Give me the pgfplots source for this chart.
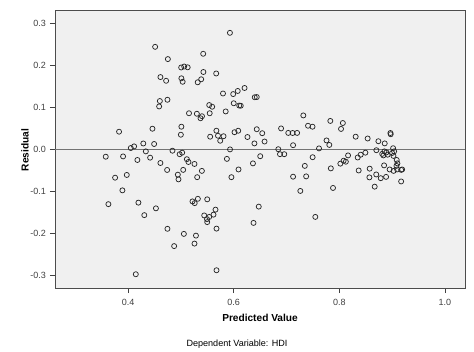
\documentclass[border=0pt]{standalone}
\usepackage{pgfplots}
\pgfplotsset{compat=1.18}
\usepackage{fontspec}
\setmainfont{Liberation Sans}
\begin{document}
\begin{tikzpicture}[x=1pt,y=1pt]
\useasboundingbox (0,0) rectangle (355.5,263.25);
\begin{axis}[
  at={(41.25pt,47.25pt)}, anchor=south west, scale only axis,
  width=307.5pt, height=208.5pt,
  xmin=0.2616, xmax=1.0379, ymin=-0.3297, ymax=0.333,
  xtick={0.4,0.6,0.8,1.0},
  ytick={-0.3,-0.2,-0.1,0,0.1,0.2,0.3},
  tick pos=left, tick align=outside,
  major tick length=3.8pt,
  tick style={draw=black!75, line width=0.6pt},
  axis line style={draw=black!70, line width=0.6pt},
  axis background/.style={fill=black!6},
  /pgf/number format/assume math mode=true,
  /pgf/number format/fixed, /pgf/number format/fixed zerofill, /pgf/number format/precision=1,
  ticklabel style={font=\fontsize{6.75}{8}\selectfont, text=black!75},
  xticklabel style={yshift=-1pt},
  yticklabel style={xshift=0.5pt},
]
\addplot[draw=black!55, line width=0.8pt, forget plot] coordinates {(0.2616,0) (1.0379,0)};
\addplot[only marks, mark=o, mark size=1.9pt, mark options={line width=0.55pt, draw=black!85}] table {
x y
0.3577 -0.0167
0.3627 -0.1298
0.3754 -0.0667
0.3829 0.0429
0.3892 -0.0969
0.3905 -0.0160
0.3975 -0.0602
0.4051 0.0040
0.4114 0.0079
0.4146 -0.2969
0.4176 -0.0245
0.4195 -0.1262
0.4288 0.0148
0.4307 -0.1560
0.4336 -0.0040
0.4417 -0.0190
0.4461 0.0500
0.4493 0.0136
0.4512 0.2452
0.4527 -0.1398
0.4612 0.1731
0.4720 0.1643
0.4753 0.2160
0.4601 0.1160
0.4588 0.1031
0.4745 0.1190
0.4612 -0.0317
0.4739 -0.0483
0.4745 -0.1886
0.4840 -0.0024
0.4872 -0.2298
0.5005 0.1960
0.5062 0.1983
0.5128 0.1964
0.5009 0.1702
0.5033 0.1619
0.5009 0.0548
0.4999 0.0357
0.4976 -0.0107
0.5024 -0.0071
0.4942 -0.0595
0.4954 -0.0707
0.5043 -0.0481
0.5056 -0.2007
0.5113 -0.0226
0.5143 -0.0293
0.5153 0.0869
0.5257 -0.0340
0.5219 -0.1233
0.5261 -0.1274
0.5321 -0.1171
0.5257 -0.2238
0.5285 -0.2048
0.5302 0.0857
0.5371 0.0750
0.5399 0.0798
0.5308 -0.0655
0.5397 -0.0505
0.5318 0.1607
0.5384 0.1679
0.5426 0.1852
0.5422 0.2286
0.5498 -0.1183
0.5441 -0.1567
0.5536 -0.1602
0.5617 -0.1548
0.5498 -0.1726
0.5494 -0.1655
0.5655 -0.1429
0.5674 -0.1881
0.5674 -0.2874
0.5536 0.1064
0.5592 0.1024
0.5545 0.0869
0.5554 0.0310
0.5672 0.0452
0.5702 0.0333
0.5744 0.0214
0.5807 0.0321
0.5668 0.1817
0.5797 0.1340
0.5928 0.2786
0.5990 0.1326
0.6076 0.1400
0.6205 0.1471
0.6000 0.1107
0.6104 0.1052
0.6133 0.1048
0.5848 0.0912
0.5871 -0.0219
0.5930 0.0007
0.5956 -0.0655
0.6091 -0.0471
0.6015 0.0417
0.6085 0.0452
0.6260 0.0302
0.6364 -0.0326
0.6375 -0.1745
0.6392 0.0150
0.6398 0.1250
0.6436 0.1255
0.6436 0.0488
0.6540 0.0393
0.6474 -0.1357
0.6502 -0.0155
0.6584 0.0195
0.6844 0.0012
0.6876 -0.0107
0.6957 -0.0107
0.6897 0.0507
0.7033 0.0400
0.7115 0.0398
0.7200 0.0400
0.7124 0.0107
0.7124 -0.0643
0.7261 -0.0983
0.7318 0.0817
0.7346 -0.0386
0.7371 -0.0636
0.7407 0.0571
0.7492 0.0548
0.7494 -0.0179
0.7545 -0.1602
0.7615 0.0031
0.7757 0.0221
0.7810 0.0114
0.7829 0.0686
0.7839 -0.0445
0.7880 -0.0912
0.8066 0.0636
0.8032 0.0495
0.8019 -0.0333
0.8081 -0.0262
0.8123 -0.0286
0.8165 -0.0136
0.8309 0.0310
0.8347 -0.0186
0.8404 -0.0119
0.8493 -0.0071
0.8366 -0.0495
0.8536 0.0267
0.8574 -0.0452
0.8569 -0.0660
0.8669 -0.0881
0.8698 -0.0590
0.8701 -0.0012
0.8739 0.0202
0.8783 -0.0679
0.8885 -0.0648
0.8847 -0.0374
0.8859 0.0150
0.8853 -0.0040
0.8834 -0.0136
0.8811 -0.0100
0.8891 -0.0064
0.8915 -0.0119
0.8967 0.0398
0.8972 0.0369
0.9018 0.0036
0.8999 -0.0079
0.9024 -0.0148
0.9037 -0.0040
0.9086 -0.0245
0.9099 -0.0326
0.9081 -0.0386
0.8952 -0.0471
0.9027 -0.0505
0.9094 -0.0471
0.9170 -0.0481
0.9189 -0.0471
0.9170 -0.0757
};
\end{axis}
\node[font=\bfseries\fontsize{7.6}{9}\selectfont, rotate=90] at (18.75,150.75) {Residual};
\node[font=\bfseries\fontsize{7.6}{9}\selectfont] at (195,24.75) {Predicted Value};
\node[font=\fontsize{6.8}{8}\selectfont] at (177.75,5.25) {Dependent Variable: HDI};
\end{tikzpicture}
\end{document}
